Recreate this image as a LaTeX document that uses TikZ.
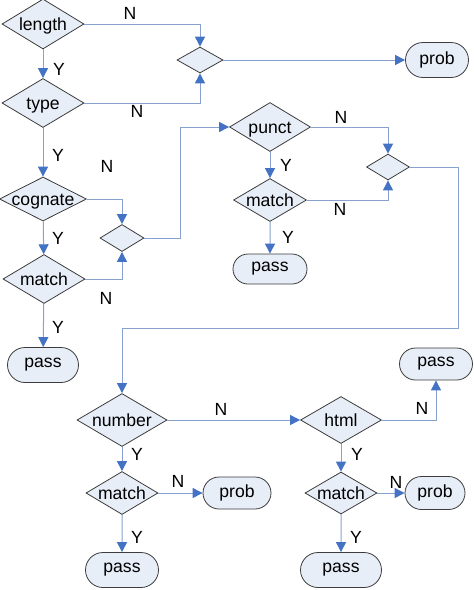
\documentclass[tikz,border=0pt]{standalone}
\usepackage{fontspec}
\setmainfont{Liberation Sans}
\usetikzlibrary{shapes.geometric,shapes.misc,arrows.meta}
\definecolor{boxfill}{RGB}{232,238,248}
\definecolor{linkline}{RGB}{135,162,206}
\definecolor{tipblue}{RGB}{68,114,196}
\definecolor{edgegray}{RGB}{60,60,60}
\newcommand{\dtext}[1]{\smash{\raisebox{-0.36em}{\makebox[0pt]{#1}}}}
\tikzset{
  dec/.style={diamond, draw=edgegray, fill=boxfill, inner sep=0pt, line width=0.6pt},
  term/.style={rounded rectangle, draw=edgegray, fill=boxfill, inner sep=0pt, line width=0.6pt},
  sz/.style 2 args={minimum width=0.75pt*#1, minimum height=0.75pt*#2},
  link/.style={draw=linkline, line width=0.75pt, -{Triangle[length=7.5pt,width=7.5pt,color=tipblue]}},
  yn/.style={inner sep=0pt}
}
\begin{document}
\begin{tikzpicture}[x=0.75pt,y=-0.75pt,font=\fontsize{13.2}{15}\selectfont]
    \useasboundingbox (0,0) rectangle (474,590);

    % left column
    \node[dec, sz={82}{50}] (length) at (43,24) {\dtext{length}};
    \node[dec, sz={82}{49}] (type) at (43,103) {\dtext{type}};
    \node[dec, sz={87}{44}] (cognate) at (43,199) {\dtext{cognate}};
    \node[dec, sz={82}{49}] (match1) at (44,279) {\dtext{match}};
    \node[term, sz={71}{35}] (pass1) at (43,365) {pass};
    \node[dec, sz={46}{26}] (m1) at (200,60) {};
    \node[dec, sz={44}{27}] (m2) at (122,238) {};
    \node[term, sz={63}{35}] (prob1) at (437,60) {prob};

    % middle column
    \node[dec, sz={81}{49}] (punct) at (270,127) {\dtext{punct}};
    \node[dec, sz={73}{43}] (match2) at (270,200) {\dtext{match}};
    \node[term, sz={74}{30}] (pass2) at (270,269) {pass};
    \node[dec, sz={43}{26}] (m3) at (388,167) {};
    \coordinate (k1) at (180,127);
    \coordinate (k2) at (458,328);

    % bottom part
    \node[dec, sz={90}{53}] (number) at (122,420) {\dtext{number}};
    \node[dec, sz={72}{43}] (match3) at (122,493) {\dtext{match}};
    \node[term, sz={68}{32}] (prob2) at (237,493) {prob};
    \node[term, sz={73}{35}] (pass4) at (122,570) {pass};
    \node[dec, sz={81}{47}] (html) at (341,420) {\dtext{html}};
    \node[dec, sz={72}{42}] (match4) at (341,493) {\dtext{match}};
    \node[term, sz={60}{33}] (prob3) at (435,493) {prob};
    \node[term, sz={81}{35}] (pass5) at (341,570) {pass};
    \node[term, sz={73}{32}] (pass3) at (436,364) {pass};

    % connectors
    \draw[link] (length) -- (type);
    \draw[link] (length.east) -| (m1.north);
    \draw[link] (type.east) -| (m1.south);
    \draw[link] (m1) -- (prob1);
    \draw[link] (type) -- (cognate);
    \draw[link] (cognate) -- (match1);
    \draw[link] (match1) -- (pass1);
    \draw[link] (cognate.east) -| (m2.north);
    \draw[link] (match1.east) -| (m2.south);
    \draw[link] (m2.east) -| (k1) -- (punct.west);
    \draw[link] (punct) -- (match2);
    \draw[link] (match2) -- (pass2);
    \draw[link] (punct.east) -| (m3.north);
    \draw[link] (match2.east) -| (m3.south);
    \draw[link] (m3.east) -| (k2) -| (number.north);
    \draw[link] (number) -- (html);
    \draw[link] (number) -- (match3);
    \draw[link] (match3) -- (prob2);
    \draw[link] (match3) -- (pass4);
    \draw[link] (html.east) -| (pass3.south);
    \draw[link] (html) -- (match4);
    \draw[link] (match4) -- (prob3);
    \draw[link] (match4) -- (pass5);

    % Y / N labels
    \node[yn] (n1) at (130,13) {N};
    \node[yn] (y1) at (59,69) {Y};
    \node[yn] (n2) at (137,111) {N};
    \node[yn] (y2) at (58,155) {Y};
    \node[yn] (n3) at (107,166) {N};
    \node[yn] (y3) at (58,238) {Y};
    \node[yn] (n4) at (106,298) {N};
    \node[yn] (y4) at (58,327) {Y};
    \node[yn] (n5) at (341,117) {N};
    \node[yn] (y5) at (286,165) {Y};
    \node[yn] (n6) at (340,209) {N};
    \node[yn] (y6) at (288,237) {Y};
    \node[yn] (n7) at (221,409) {N};
    \node[yn] (y7) at (137,454) {Y};
    \node[yn] (n8) at (178,481) {N};
    \node[yn] (y8) at (137,537) {Y};
    \node[yn] (n9) at (422,408) {N};
    \node[yn] (y9) at (357,454) {Y};
    \node[yn] (n10) at (396,482) {N};
    \node[yn] (y10) at (356,537) {Y};
\end{tikzpicture}
\end{document}
